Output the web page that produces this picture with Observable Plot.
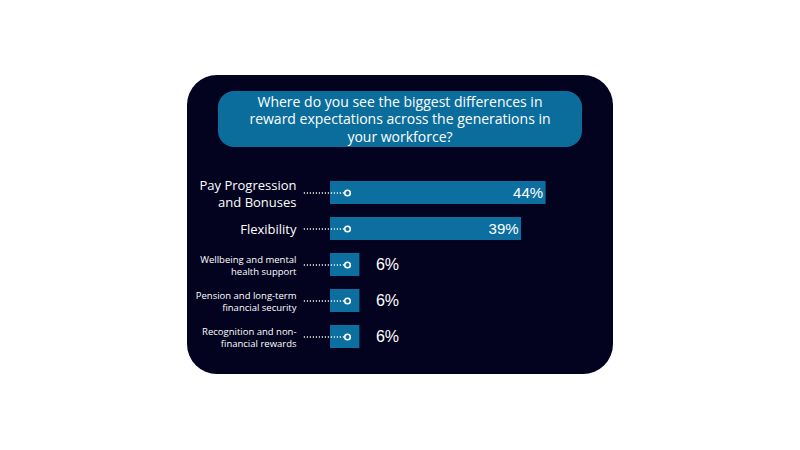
<!DOCTYPE html>
<html>
<head>
<meta charset="utf-8">
<script src="https://cdn.jsdelivr.net/npm/d3@7"></script>
<script src="https://cdn.jsdelivr.net/npm/@observablehq/plot@0.6"></script>
<style>
  html, body { margin: 0; padding: 0; background: #ffffff; width: 800px; height: 450px; overflow: hidden; }
  #panel { position: absolute; left: 187px; top: 75px; width: 426px; height: 299px; background: #03031f; border-radius: 30px; }
  #title { position: absolute; left: 31px; top: 16px; width: 364px; height: 56px; background: #0b6d9c; border-radius: 16px;
           color: #ffffff; font-family: "Open Sans", sans-serif; font-size: 14px; line-height: 17.5px; text-align: center;
           display: flex; align-items: center; justify-content: center; }
  #chart { position: absolute; left: 0; top: 75px; }
</style>
</head>
<body>
<div id="panel">
  <div id="title"><div>Where do you see the biggest differences in<br>reward expectations across the generations in<br>your workforce?</div></div>
  <div id="chart"></div>
</div>
<script>
const categories = [
  "Pay Progression\nand Bonuses",
  "Flexibility",
  "Wellbeing and mental\nhealth support",
  "Pension and long-term\nfinancial security",
  "Recognition and non-\nfinancial rewards"
];
const values = [44, 39, 6, 6, 6];
const valueLabels = ["44%", "39%", "6%", "6%", "6%"];

const data = categories.map((c, i) => ({category: c, value: values[i], label: valueLabels[i], rank: i}));
const barColor = "#0c6fa0";

const chart = Plot.plot({
  width: 426,
  height: 225,
  marginLeft: 143,
  marginRight: 38,
  marginTop: 16.4,
  marginBottom: 12.1,
  x: {domain: [0, 50], axis: null},
  y: {domain: categories, padding: 0.37},
  style: {background: "transparent", color: "white", fontFamily: "'Open Sans', sans-serif"},
  marks: [
    Plot.barX(data, {x: "value", y: "category", fill: barColor}),
    Plot.axisY({anchor: "left", tickSize: 42, dx: 14, fill: "none", stroke: "white", strokeWidth: 1.6,
                strokeDasharray: "1.2,1.8", strokeOpacity: 0.95, label: null}),
    Plot.dot(data, {x: 0, y: "category", dx: 17, r: 2.8, stroke: "white", strokeWidth: 1.6, fill: barColor}),
    Plot.text(data.filter(d => d.rank < 2), {x: 0, y: "category", text: "category", textAnchor: "end", dx: -34,
                fontSize: 13, lineHeight: 1.27, fill: "white"}),
    Plot.text(data.filter(d => d.rank >= 2), {x: 0, y: "category", text: "category", textAnchor: "end", dx: -34,
                fontSize: 9.5, lineHeight: 1.24, fill: "white"}),
    Plot.text(data.filter(d => d.value > 10), {x: "value", y: "category", text: "label", textAnchor: "end", dx: -3,
                fontSize: 15, fill: "white", fontFamily: "'Liberation Sans', sans-serif"}),
    Plot.text(data.filter(d => d.value <= 10), {x: "value", y: "category", text: "label", textAnchor: "start", dx: 16,
                fontSize: 16, fill: "white", fontFamily: "'Liberation Sans', sans-serif"})
  ]
});
document.getElementById("chart").appendChild(chart);
</script>
</body>
</html>
